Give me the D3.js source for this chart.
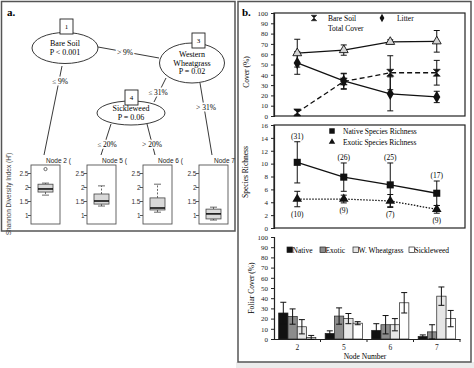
<!DOCTYPE html>
<html>
<head>
<meta charset="utf-8">
<script src="https://cdn.jsdelivr.net/npm/d3@7"></script>
<style>
  body { margin: 0; background: #fff; }
  svg { display: block; }
</style>
</head>
<body>
<div id="chart"></div>
<script>
// ---- data ----
var nodes = ['2', '5', '6', '7'];
var boxTitles = ['Node 2 (', 'Node 5 (', 'Node 6 (', 'Node 7'];
var boxLo  = [1.71, 1.32, 1.10, 0.82];
var boxQ1  = [1.82, 1.39, 1.18, 0.86];
var boxMed = [1.93, 1.50, 1.25, 1.04];
var boxQ3  = [2.10, 1.75, 1.61, 1.21];
var boxHi  = [2.14, 2.04, 2.10, 1.28];
var boxOut = [[2.64], [], [], []];
var boxTicks = [1, 1.5, 2, 2.5];

var bareSoil = [3.5, 33.5, 42, 42];
var bareSoilErr = [2.5, 7.5, 16.5, 12];
var litter = [51.5, 34, 21.5, 18.5];
var litterErr = [11, 7.5, 16.5, 5.5];
var totalCover = [61, 64, 72, 72.5];
var totalCoverErr = [13.5, 5, 2, 10.5];

var nativeRich = [10.2, 7.9, 6.7, 5.4];
var nativeRichErr = [3.2, 2.2, 3.4, 1.9];
var exoticRich = [4.5, 4.5, 4.2, 2.9];
var exoticRichErr = [1.2, 0.6, 1.0, 0.6];
var nativeN = [31, 26, 25, 17];
var exoticN = [10, 9, 7, 9];

var foliarSeries = ['Native', 'Exotic', 'W. Wheatgrass', 'Sickleweed'];
var foliarNative = [25.5, 5.5, 8.5, 2.5];
var foliarNativeErr = [10.5, 2.5, 6.5, 1.5];
var foliarExotic = [22, 22.5, 14, 7];
var foliarExoticErr = [7.5, 8, 9, 7];
var foliarWheat = [12, 20, 14, 42];
var foliarWheatErr = [7, 5, 6, 9];
var foliarSickle = [1.5, 15.5, 35.5, 20];
var foliarSickleErr = [2, 1.5, 10, 8];

var serif = 'Liberation Serif';
var sans = 'Liberation Sans';

var svg = d3.select('#chart').append('svg')
    .attr('width', 474).attr('height', 368);

// light strip at bottom right
svg.append('rect').attr('x', 236).attr('y', 362).attr('width', 238).attr('height', 6)
    .style('fill', '#ececec');

// panel frames
svg.append('rect').attr('x', 1.5).attr('y', 1.5).attr('width', 233.5).attr('height', 229.5)
    .style('fill', 'none').style('stroke', '#555').style('stroke-width', 1.5);
svg.append('rect').attr('x', 238).attr('y', 1.5).attr('width', 233).attr('height', 360.5)
    .style('fill', 'none').style('stroke', '#555').style('stroke-width', 1.5);

svg.append('text').text('a.').attr('x', 7).attr('y', 16)
    .style('font-family', serif).style('font-weight', 'bold').style('font-size', '11px');
svg.append('text').text('b.').attr('x', 242).attr('y', 16)
    .style('font-family', serif).style('font-weight', 'bold').style('font-size', '11px');

// ---- panel a: tree ----
var tree = svg.append('g');
var edges = [
  {x1: 98, y1: 47, x2: 159, y2: 58, lab: '> 9%', lx: 125, ly: 52},
  {x1: 62, y1: 66, x2: 44, y2: 155, lab: '\u2264 9%', lx: 60, ly: 81},
  {x1: 166, y1: 78, x2: 154, y2: 102, lab: '\u2264 31%', lx: 158, ly: 92},
  {x1: 200, y1: 83, x2: 212, y2: 155, lab: '> 31%', lx: 206, ly: 107},
  {x1: 111, y1: 124, x2: 101, y2: 155, lab: '\u2264 20%', lx: 107, ly: 144},
  {x1: 147, y1: 124, x2: 155, y2: 155, lab: '> 20%', lx: 152, ly: 144}
];
edges.forEach(function(e){
  tree.append('line').attr('x1', e.x1).attr('y1', e.y1).attr('x2', e.x2).attr('y2', e.y2)
      .style('stroke', '#222').style('stroke-width', 0.9);
  tree.append('text').text(e.lab).attr('x', e.lx).attr('y', e.ly + 2.5)
      .attr('text-anchor', 'middle')
      .style('font-family', serif).style('font-size', '7.5px')
      .style('stroke', '#fff').style('stroke-width', 3).style('paint-order', 'stroke');
});

var splits = [
  {n: '1', cx: 65, cy: 48, rx: 33, ry: 15.5, bx: 60, by: 19, lines: ['Bare Soil', 'P  < 0.001'], ty: 46},
  {n: '3', cx: 192, cy: 63, rx: 32.5, ry: 20, bx: 192, by: 33, lines: ['Western', 'Wheatgrass', 'P = 0.02'], ty: 57},
  {n: '4', cx: 131, cy: 113, rx: 34, ry: 12, bx: 125, by: 90, lines: ['Sickleweed', 'P = 0.06'], ty: 111}
];
splits.forEach(function(s){
  tree.append('ellipse').attr('cx', s.cx).attr('cy', s.cy).attr('rx', s.rx).attr('ry', s.ry)
      .style('fill', '#fff').style('stroke', '#222').style('stroke-width', 0.9);
  s.lines.forEach(function(t, i){
    tree.append('text').text(t).attr('x', s.cx).attr('y', s.ty + i * 8.7)
        .attr('text-anchor', 'middle')
        .style('font-family', serif).style('font-size', '8px');
  });
  tree.append('rect').attr('x', s.bx).attr('y', s.by).attr('width', 13).attr('height', 15)
      .style('fill', '#fff').style('stroke', '#222').style('stroke-width', 0.9);
  tree.append('text').text(s.n).attr('x', s.bx + 6.5).attr('y', s.by + 10)
      .attr('text-anchor', 'middle')
      .style('font-family', serif).style('font-size', '7px');
});

// ---- panel a: boxplots ----
var boxY = d3.scaleLinear().domain([1, 2.5]).range([215, 173]);
nodes.forEach(function(n, i){
  var px = 31 + 56 * i;
  var g = svg.append('g').attr('transform', 'translate(' + px + ',0)');
  g.append('text').text(boxTitles[i]).attr('x', 15).attr('y', 163)
      .style('font-family', sans).style('font-size', '6.5px').style('fill', '#222');
  g.append('rect').attr('x', 0).attr('y', 165).attr('width', 29).attr('height', 59)
      .style('fill', '#fff').style('stroke', '#555').style('stroke-width', 0.9);
  var ax = g.append('g').call(d3.axisLeft(boxY).tickValues(boxTicks).tickSize(3)
      .tickFormat(d3.format('')));
  ax.select('.domain').remove();
  ax.selectAll('text').style('font-family', sans).style('font-size', '6.5px')
      .style('fill', '#333').attr('x', -2.5);
  ax.selectAll('line').style('stroke', '#555');
  var bx = 7, bw = 15, cx = bx + bw / 2;
  g.append('line').attr('x1', cx).attr('x2', cx).attr('y1', boxY(boxQ3[i])).attr('y2', boxY(boxHi[i]))
      .style('stroke', '#444').style('stroke-dasharray', '2,1.5').style('stroke-width', 0.8);
  g.append('line').attr('x1', cx).attr('x2', cx).attr('y1', boxY(boxQ1[i])).attr('y2', boxY(boxLo[i]))
      .style('stroke', '#444').style('stroke-dasharray', '2,1.5').style('stroke-width', 0.8);
  [boxHi[i], boxLo[i]].forEach(function(v){
    g.append('line').attr('x1', cx - 3.5).attr('x2', cx + 3.5).attr('y1', boxY(v)).attr('y2', boxY(v))
        .style('stroke', '#444').style('stroke-width', 0.8);
  });
  g.append('rect').attr('x', bx).attr('width', bw)
      .attr('y', boxY(boxQ3[i])).attr('height', boxY(boxQ1[i]) - boxY(boxQ3[i]))
      .style('fill', '#d9d9d9').style('stroke', '#444').style('stroke-width', 0.8);
  g.append('line').attr('x1', bx).attr('x2', bx + bw).attr('y1', boxY(boxMed[i])).attr('y2', boxY(boxMed[i]))
      .style('stroke', '#111').style('stroke-width', 1.6);
  boxOut[i].forEach(function(v){
    g.append('circle').attr('cx', cx).attr('cy', boxY(v)).attr('r', 1.6)
        .style('fill', 'none').style('stroke', '#444').style('stroke-width', 0.8);
  });
});
svg.append('text').text("Shannon Diversity Index (H')")
    .attr('transform', 'translate(11,194) rotate(-90)').attr('text-anchor', 'middle')
    .style('font-family', sans).style('font-size', '6.5px').style('fill', '#444');

// ---- panel b shared ----
var x = d3.scaleBand().domain(nodes).range([274, 460]);
var xc = function(i){ return x(nodes[i]) + x.bandwidth() / 2; };

function styleAxis(ax){
  ax.selectAll('text').style('font-family', serif).style('font-size', '7px').style('fill', '#222');
  ax.selectAll('line').style('stroke', '#222');
  ax.select('.domain').style('stroke', '#222').style('stroke-width', 1.2);
}
function errBar(g, cx, y, v, e, w){
  g.append('line').attr('x1', cx).attr('x2', cx).attr('y1', y(v - e)).attr('y2', y(v + e))
      .style('stroke', '#111').style('stroke-width', 1);
  [v - e, v + e].forEach(function(t){
    g.append('line').attr('x1', cx - w).attr('x2', cx + w).attr('y1', y(t)).attr('y2', y(t))
        .style('stroke', '#111').style('stroke-width', 1);
  });
}
function yLabel(txt, lx, ly){
  svg.append('text').text(txt).attr('transform', 'translate(' + lx + ',' + ly + ') rotate(-90)')
      .attr('text-anchor', 'middle').style('font-family', serif).style('font-size', '7.5px');
}

// ---- top: cover ----
var y1 = d3.scaleLinear().domain([0, 100]).range([116, 13]);
svg.append('rect').attr('x', 274).attr('y', 13).attr('width', 191).attr('height', 103)
    .style('fill', 'none').style('stroke', '#222').style('stroke-width', 1.2);
styleAxis(svg.append('g').attr('transform', 'translate(274,0)')
    .call(d3.axisLeft(y1).ticks(10).tickSize(3)));
yLabel('Cover (%)', 249, 72);

var gTop = svg.append('g');
var line1 = d3.line().x(function(d, i){ return xc(i); }).y(function(d){ return y1(d); });
gTop.append('path').datum(totalCover).attr('d', line1)
    .style('fill', 'none').style('stroke', '#111').style('stroke-width', 1.3);
gTop.append('path').datum(litter).attr('d', line1)
    .style('fill', 'none').style('stroke', '#111').style('stroke-width', 1.3);
gTop.append('path').datum(bareSoil).attr('d', line1)
    .style('fill', 'none').style('stroke', '#111').style('stroke-width', 1.3)
    .style('stroke-dasharray', '5,3');
nodes.forEach(function(n, i){
  errBar(gTop, xc(i), y1, totalCover[i], totalCoverErr[i], 3);
  errBar(gTop, xc(i), y1, litter[i], litterErr[i], 3);
  errBar(gTop, xc(i), y1, bareSoil[i], bareSoilErr[i], 3);
});
var hourglass = 'M-3.5,-3.5H3.5L-3.5,3.5H3.5Z';
nodes.forEach(function(n, i){
  gTop.append('path').attr('d', d3.symbol(d3.symbolTriangle, 34)())
      .attr('transform', 'translate(' + xc(i) + ',' + y1(totalCover[i]) + ')')
      .style('fill', '#d4d4d4').style('stroke', '#111').style('stroke-width', 0.9);
  gTop.append('path').attr('d', d3.symbol(d3.symbolDiamond, 45)())
      .attr('transform', 'translate(' + xc(i) + ',' + y1(litter[i]) + ')')
      .style('fill', '#111');
  gTop.append('path').attr('d', hourglass)
      .attr('transform', 'translate(' + xc(i) + ',' + y1(bareSoil[i]) + ')')
      .style('fill', '#111').style('stroke', '#111').style('stroke-width', 0.6);
});
// legend top
gTop.append('path').attr('d', hourglass).attr('transform', 'translate(314,18) scale(0.8)')
    .style('fill', '#111').style('stroke', '#111').style('stroke-width', 0.6);
gTop.append('text').text('Bare Soil').attr('x', 328).attr('y', 21)
    .style('font-family', serif).style('font-size', '7.5px');
gTop.append('path').attr('d', d3.symbol(d3.symbolDiamond, 20)()).attr('transform', 'translate(382,18)')
    .style('fill', '#111');
gTop.append('text').text('Litter').attr('x', 397).attr('y', 21)
    .style('font-family', serif).style('font-size', '7.5px');
gTop.append('text').text('Total Cover').attr('x', 328).attr('y', 31)
    .style('font-family', serif).style('font-size', '7.5px');

// ---- middle: richness ----
var y2 = d3.scaleLinear().domain([0, 16]).range([228, 125]);
svg.append('rect').attr('x', 274).attr('y', 125).attr('width', 191).attr('height', 103)
    .style('fill', 'none').style('stroke', '#222').style('stroke-width', 1.2);
styleAxis(svg.append('g').attr('transform', 'translate(274,0)')
    .call(d3.axisLeft(y2).ticks(8).tickSize(3)));
yLabel('Species Richness', 248, 172);

var gMid = svg.append('g');
var line2 = d3.line().x(function(d, i){ return xc(i); }).y(function(d){ return y2(d); });
gMid.append('path').datum(nativeRich).attr('d', line2)
    .style('fill', 'none').style('stroke', '#111').style('stroke-width', 1.3);
gMid.append('path').datum(exoticRich).attr('d', line2)
    .style('fill', 'none').style('stroke', '#111').style('stroke-width', 1.3)
    .style('stroke-dasharray', '1.5,1.5');
nodes.forEach(function(n, i){
  errBar(gMid, xc(i), y2, nativeRich[i], nativeRichErr[i], 3);
  errBar(gMid, xc(i), y2, exoticRich[i], exoticRichErr[i], 3);
  gMid.append('path').attr('d', d3.symbol(d3.symbolSquare, 50)())
      .attr('transform', 'translate(' + xc(i) + ',' + y2(nativeRich[i]) + ')').style('fill', '#111');
  gMid.append('path').attr('d', d3.symbol(d3.symbolTriangle, 40)())
      .attr('transform', 'translate(' + xc(i) + ',' + y2(exoticRich[i]) + ')').style('fill', '#111');
  gMid.append('text').text('(' + nativeN[i] + ')').attr('x', xc(i))
      .attr('y', y2(nativeRich[i] + nativeRichErr[i]) - 3).attr('text-anchor', 'middle')
      .style('font-family', serif).style('font-size', '7.5px');
  gMid.append('text').text('(' + exoticN[i] + ')').attr('x', xc(i))
      .attr('y', y2(exoticRich[i] - exoticRichErr[i]) + 10).attr('text-anchor', 'middle')
      .style('font-family', serif).style('font-size', '7.5px');
});
gMid.append('path').attr('d', d3.symbol(d3.symbolSquare, 30)()).attr('transform', 'translate(332,131)')
    .style('fill', '#111');
gMid.append('text').text('Native Species Richness').attr('x', 343).attr('y', 134)
    .style('font-family', serif).style('font-size', '7.5px');
gMid.append('path').attr('d', d3.symbol(d3.symbolTriangle, 18)()).attr('transform', 'translate(332,142)')
    .style('fill', '#111');
gMid.append('text').text('Exotic Species Richness').attr('x', 343).attr('y', 145)
    .style('font-family', serif).style('font-size', '7.5px');

// ---- bottom: foliar cover bars ----
var y3 = d3.scaleLinear().domain([0, 100]).range([339, 237]);
styleAxis(svg.append('g').attr('transform', 'translate(274,0)')
    .call(d3.axisLeft(y3).ticks(10).tickSize(3)));
var xAx = svg.append('g').attr('transform', 'translate(0,339)')
    .call(d3.axisBottom(x).tickSize(0).tickPadding(6));
styleAxis(xAx);
xAx.selectAll('text').style('font-size', '7.5px');
nodes.forEach(function(n, i){
  var bx = x(n) + x.bandwidth();
  svg.append('line').attr('x1', bx).attr('x2', bx).attr('y1', 339).attr('y2', 342)
      .style('stroke', '#222');
});
svg.append('text').text('Node Number').attr('x', 365).attr('y', 359).attr('text-anchor', 'middle')
    .style('font-family', serif).style('font-size', '7.5px');
yLabel('Foliar Cover (%)', 254, 288);

var foliarVals = [foliarNative, foliarExotic, foliarWheat, foliarSickle];
var foliarErrs = [foliarNativeErr, foliarExoticErr, foliarWheatErr, foliarSickleErr];
var foliarFill = ['#111', '#8c8c8c', '#e6e6e6', '#fff'];
var xs = d3.scaleBand().domain(foliarSeries).range([0, x.bandwidth()]).paddingOuter(0.5).paddingInner(0);
var bars = svg.append('g');
nodes.forEach(function(n, i){
  foliarSeries.forEach(function(s, k){
    var v = foliarVals[k][i];
    var bx = x(n) + xs(s);
    bars.append('rect').attr('x', bx).attr('width', xs.bandwidth())
        .attr('y', y3(v)).attr('height', y3(0) - y3(v))
        .style('fill', foliarFill[k]).style('stroke', '#222').style('stroke-width', 0.7);
  });
  foliarSeries.forEach(function(s, k){
    errBar(bars, x(n) + xs(s) + xs.bandwidth() / 2, y3, foliarVals[k][i], foliarErrs[k][i], 3);
  });
});
var legX = [287, 320, 353, 409];
foliarSeries.forEach(function(s, k){
  bars.append('rect').attr('x', legX[k]).attr('y', 247).attr('width', 5.5).attr('height', 5.5)
      .style('fill', foliarFill[k]).style('stroke', '#222').style('stroke-width', 0.7);
  bars.append('text').text(s).attr('x', legX[k] + 5.5).attr('y', 253)
      .style('font-family', serif).style('font-size', '7.5px');
});
</script>
</body>
</html>
